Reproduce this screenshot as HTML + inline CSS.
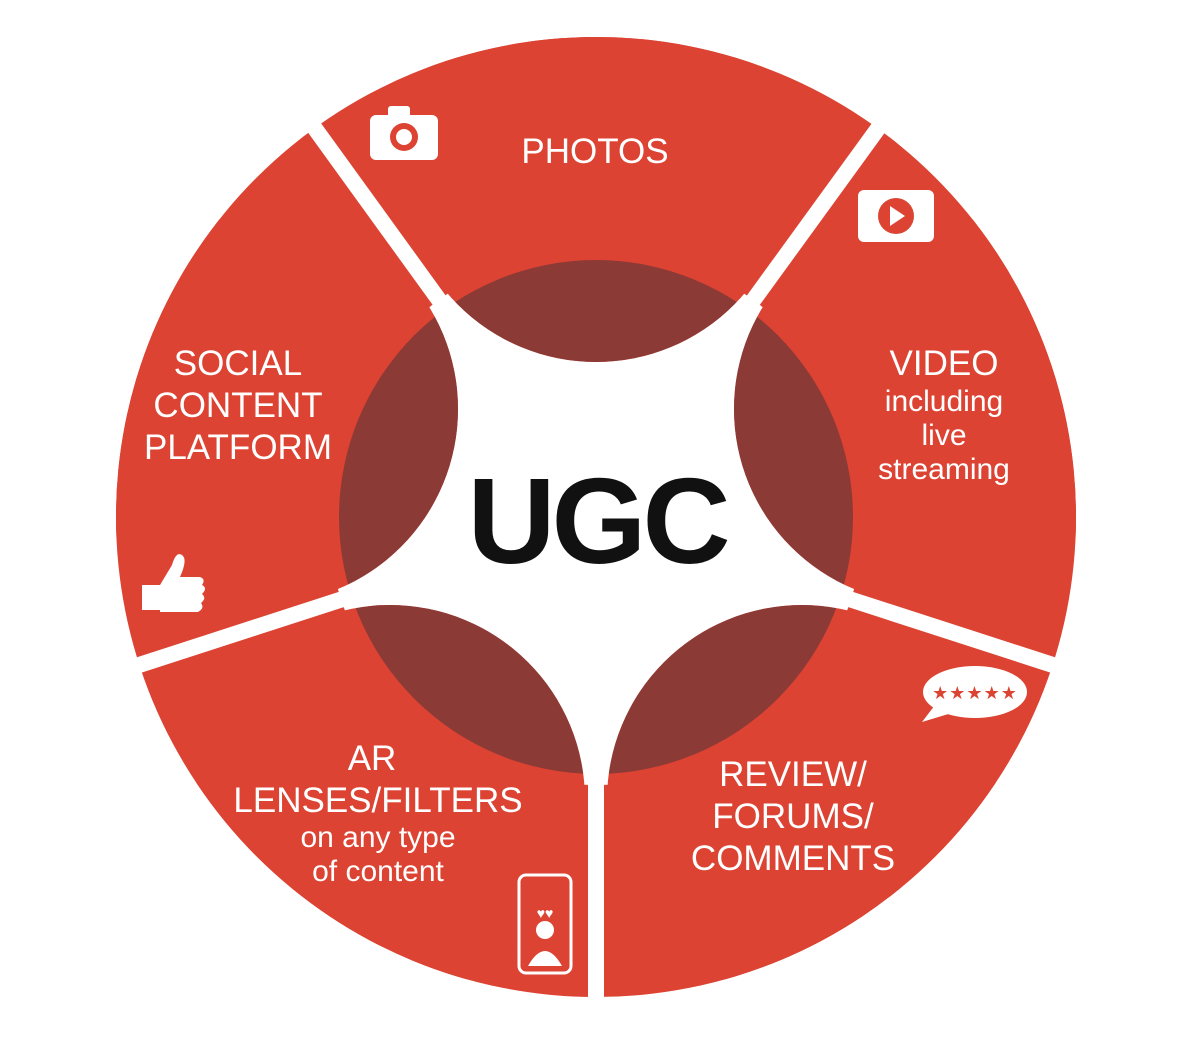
<!DOCTYPE html>
<html><head><style>
html,body{margin:0;padding:0;background:#fff;}
svg{display:block;}
text{font-family:"Liberation Sans",sans-serif;fill:#fff;text-anchor:middle;}
</style></head><body>
<svg width="1204" height="1058" viewBox="0 0 1204 1058" xmlns="http://www.w3.org/2000/svg">
<defs>
<clipPath id="big"><circle cx="596" cy="517" r="480"/></clipPath>
<clipPath id="inner"><circle cx="596" cy="517" r="257"/></clipPath>
</defs>
<circle cx="596" cy="517" r="480" fill="#dc4333"/>
<circle cx="596" cy="517" r="268" fill="#fff"/>
<g clip-path="url(#big)" fill="#dc4333">
<circle cx="596" cy="167" r="195"/>
<circle cx="929" cy="409" r="195"/>
<circle cx="802" cy="800" r="195"/>
<circle cx="390" cy="800" r="195"/>
<circle cx="263" cy="409" r="195"/>
</g>
<g clip-path="url(#inner)" fill="#8c3a36">
<circle cx="596" cy="167" r="195"/>
<circle cx="929" cy="409" r="195"/>
<circle cx="802" cy="800" r="195"/>
<circle cx="390" cy="800" r="195"/>
<circle cx="263" cy="409" r="195"/>
</g>
<g stroke="#fff" stroke-width="16">
<line x1="596" y1="517" x2="290" y2="94"/>
<line x1="596" y1="517" x2="903" y2="94"/>
<line x1="596" y1="517" x2="1093" y2="678"/>
<line x1="596" y1="517" x2="596" y2="1040"/>
<line x1="596" y1="517" x2="99" y2="678"/>
</g>
<text x="597" y="563" style="font-weight:bold;font-size:122px;fill:#111;letter-spacing:-4px">UGC</text>
<g style="font-size:35px">
<text x="595" y="163">PHOTOS</text>
<text x="238" y="375">SOCIAL</text>
<text x="238" y="417">CONTENT</text>
<text x="238" y="459">PLATFORM</text>
<text x="944" y="375">VIDEO</text>
<text x="372" y="770">AR</text>
<text x="378" y="812">LENSES/FILTERS</text>
<text x="793" y="786">REVIEW/</text>
<text x="793" y="828">FORUMS/</text>
<text x="793" y="870">COMMENTS</text>
</g>
<g style="font-size:30px">
<text x="944" y="411">including</text>
<text x="944" y="445">live</text>
<text x="944" y="479">streaming</text>
<text x="378" y="847">on any type</text>
<text x="378" y="881">of content</text>
</g>
<g fill="#fff">
<rect x="370" y="115" width="68" height="45" rx="6"/>
<rect x="388" y="106" width="22" height="12" rx="3"/>
</g>
<circle cx="404" cy="137" r="14" fill="#dc4333"/>
<circle cx="404" cy="137" r="8" fill="#fff"/>
<rect x="858" y="190" width="76" height="52" rx="6" fill="#fff"/>
<circle cx="896" cy="216" r="18" fill="#dc4333"/>
<polygon points="890,206 890,226 905,216" fill="#fff"/>
<ellipse cx="975" cy="692" rx="52" ry="26" fill="#fff"/>
<polygon points="935,705 922,722 955,712" fill="#fff"/>
<text x="975" y="699" style="font-size:18px;fill:#dc4333;letter-spacing:1px">★★★★★</text>
<rect x="519" y="875" width="52" height="98" rx="7" fill="none" stroke="#fff" stroke-width="3"/>
<circle cx="545" cy="930" r="9" fill="#fff"/>
<path d="M528 966 q17-30 34 0z" fill="#fff"/>
<text x="545" y="918" style="font-size:14px">♥♥</text>
<path d="M142 585 h18 l12 -20 q4 -14 10 -10 q6 4 -2 22 h20 q6 2 2 8 q6 3 0 9 q5 4 -1 9 q4 5 -3 9 h-38 v-2 h-18z" fill="#fff"/>
</svg>
</body></html>
